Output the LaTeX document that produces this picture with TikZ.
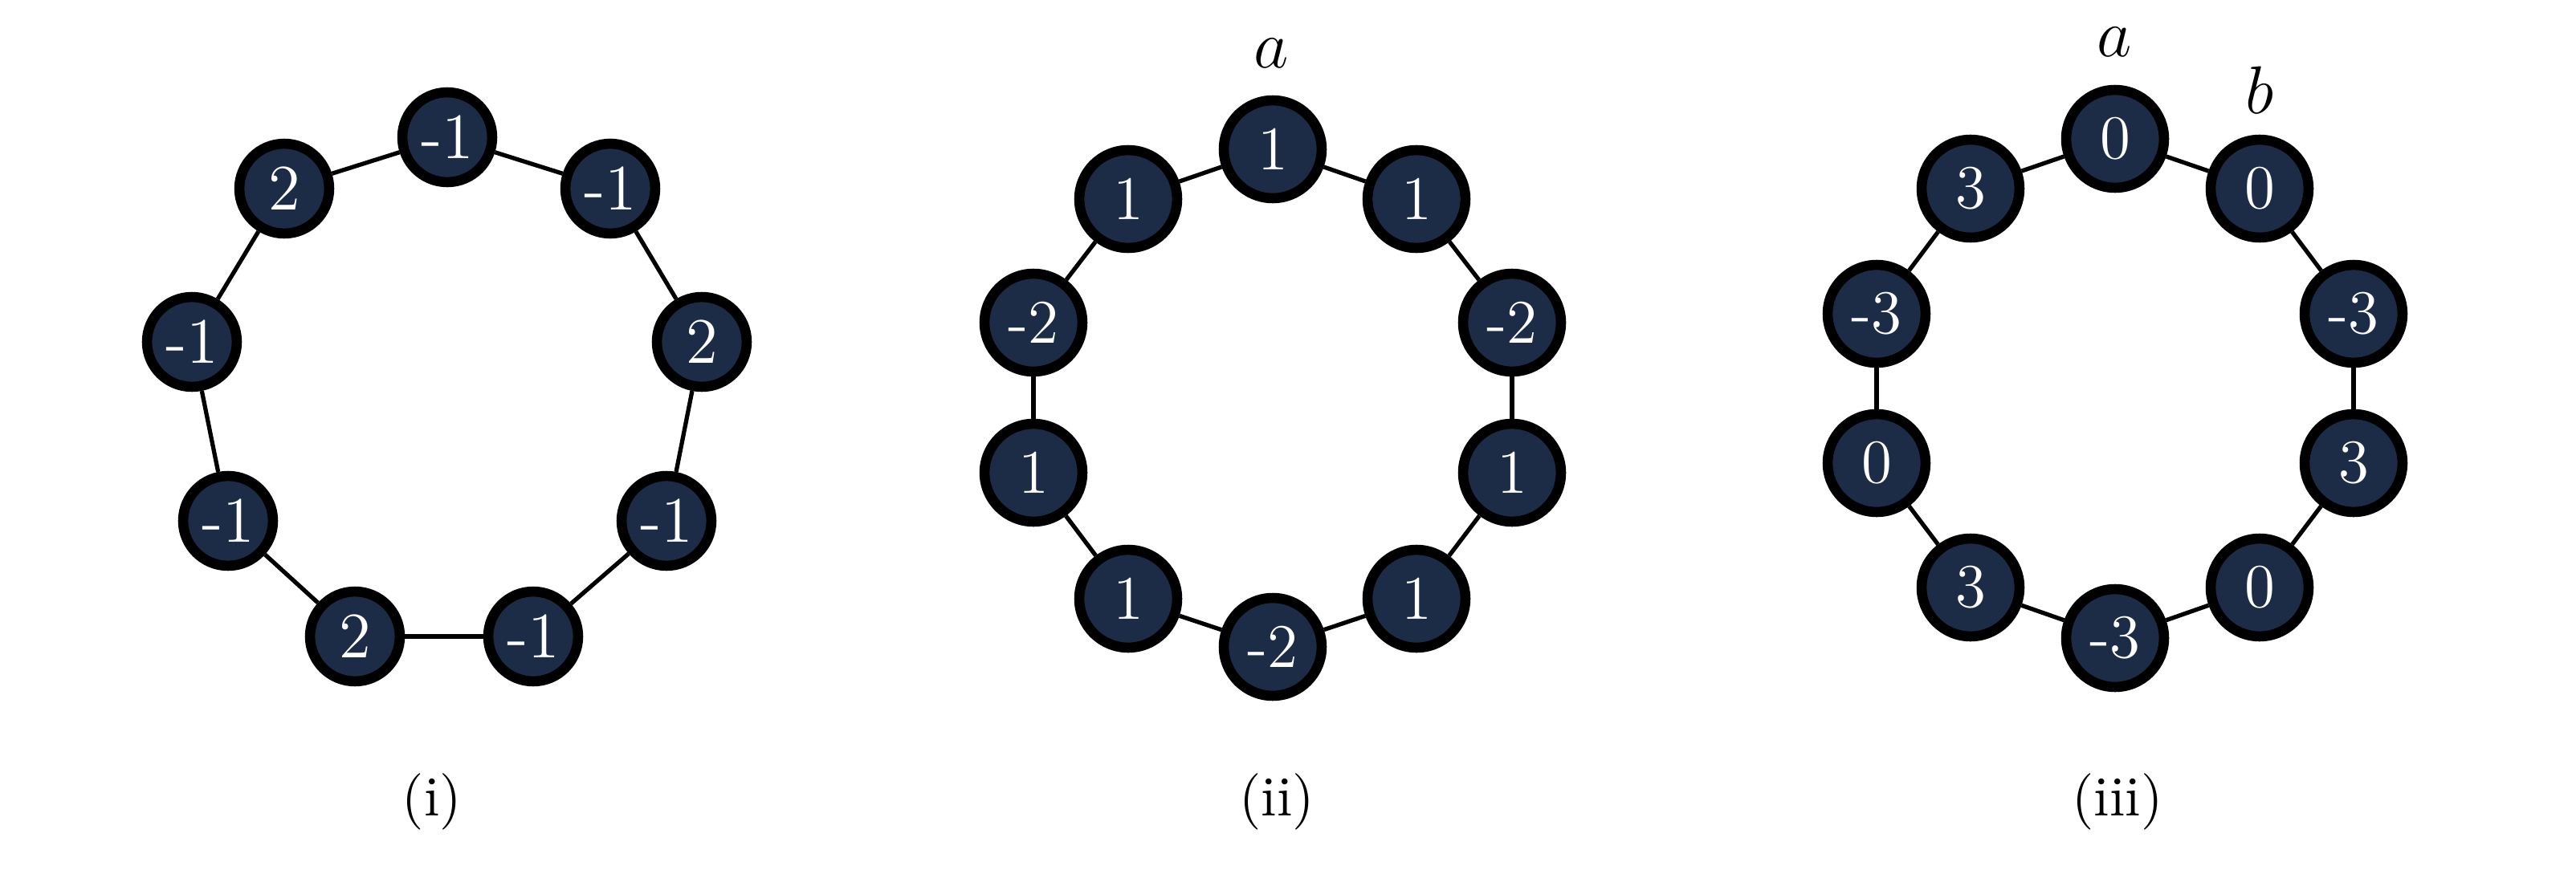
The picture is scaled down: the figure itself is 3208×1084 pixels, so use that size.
\documentclass[tikz,border=0pt]{standalone}
\definecolor{navy}{RGB}{28,44,70}
\tikzset{
  v/.style={circle, draw=black, line width=1.8pt, fill=navy, text=white,
            minimum size=0.56cm, inner sep=0pt, font=\fontsize{11.5}{13}\selectfont},
  vb/.style={v, minimum size=0.61cm, font=\fontsize{11}{13}\selectfont},
  e/.style={line width=0.75pt},
  lab/.style={font=\fontsize{12}{14}\selectfont},
  captext/.style={font=\fontsize{10}{12}\selectfont}
}
\begin{document}
\begin{tikzpicture}[x=0.005cm,y=-0.005cm]
\useasboundingbox (0,0) rectangle (3208,1084);
% (i)
\node[v] (a1) at (557,171) {-1};
\node[v] (a2) at (760,235) {-1};
\node[v] (a3) at (874,426) {2};
\node[v] (a4) at (830,649) {-1};
\node[v] (a5) at (664,793) {-1};
\node[v] (a6) at (442,793) {2};
\node[v] (a7) at (284,649) {-1};
\node[v] (a8) at (239,426) {-1};
\node[v] (a9) at (354,235) {2};
\foreach \i/\j in {1/2,2/3,3/4,4/5,5/6,6/7,7/8,8/9,9/1} \draw[e] (a\i) -- (a\j);
\node[captext] (c1) at (538,999) {(i)};
% (ii)
\node[vb] (b1) at (1585,186) {1};
\node[vb] (b2) at (1764,248) {1};
\node[vb] (b3) at (1883,402) {-2};
\node[vb] (b4) at (1883,589) {1};
\node[vb] (b5) at (1764,746) {1};
\node[vb] (b6) at (1585,806) {-2};
\node[vb] (b7) at (1405,746) {1};
\node[vb] (b8) at (1287,589) {1};
\node[vb] (b9) at (1287,402) {-2};
\node[vb] (b10) at (1405,248) {1};
\foreach \i/\j in {1/2,2/3,3/4,4/5,5/6,6/7,7/8,8/9,9/10,10/1} \draw[e] (b\i) -- (b\j);
\node[lab] (la) at (1583,66) {$a$};
\node[captext] (c2) at (1590,999) {(ii)};
% (iii)
\node[vb] (d1) at (2634,173) {0};
\node[vb] (d2) at (2814,235) {0};
\node[vb] (d3) at (2931,391) {-3};
\node[vb] (d4) at (2931,577) {3};
\node[vb] (d5) at (2814,732) {0};
\node[vb] (d6) at (2634,795) {-3};
\node[vb] (d7) at (2454,732) {3};
\node[vb] (d8) at (2337,577) {0};
\node[vb] (d9) at (2337,391) {-3};
\node[vb] (d10) at (2454,235) {3};
\foreach \i/\j in {1/2,2/3,3/4,4/5,5/6,6/7,7/8,8/9,9/10,10/1} \draw[e] (d\i) -- (d\j);
\node[lab] (lb1) at (2633,52) {$a$};
\node[lab] (lb2) at (2814,112) {$b$};
\node[captext] (c3) at (2637,999) {(iii)};
\end{tikzpicture}
\end{document}
